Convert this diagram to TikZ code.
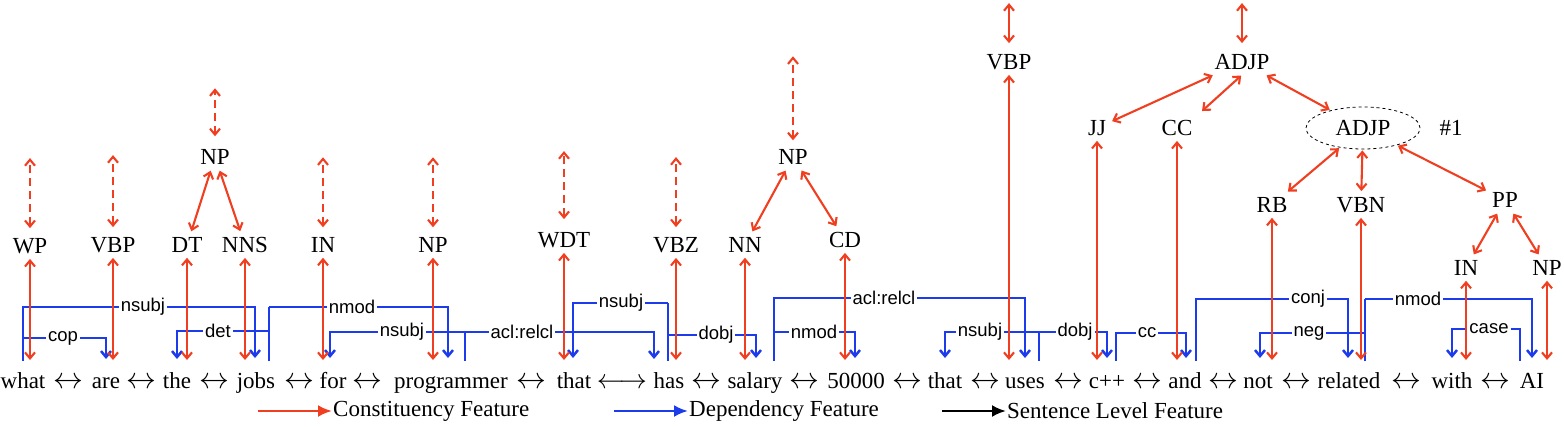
\documentclass[tikz,border=0pt]{standalone}
\usepackage{fontspec}
\setmainfont{Liberation Serif}
\newfontfamily\depfont{Liberation Sans}
\usetikzlibrary{arrows.meta,shapes.geometric}
\definecolor{cred}{RGB}{240,62,32}
\definecolor{cblue}{RGB}{28,60,235}
\newcommand{\lr}{\scalebox{1.2}{$\leftrightarrow$}}
\newcommand{\llr}{\scalebox{1.1}{$\longleftrightarrow$}}
\begin{document}
\begin{tikzpicture}[x=1pt,y=-1pt,
 word/.style={font=\fontsize{23}{25}\selectfont, inner sep=3pt, anchor=base},
 tag/.style={font=\fontsize{23}{25}\selectfont, inner sep=5pt},
 con/.style={cred, line width=2.1pt, {Straight Barb[length=6pt,width=10pt]}-{Straight Barb[length=6pt,width=10pt]}},
 low/.style={con, shorten >=28pt},
 dcon/.style={con, dash pattern=on 8pt off 5pt},
 tree/.style={con, shorten >=1pt, shorten <=1pt},
 dep/.style={cblue, line width=2.5pt},
 deparr/.style={dep, -{Straight Barb[length=6pt,width=10pt]}},
 dl/.style={font=\depfont\fontsize{18.5}{20}\selectfont, fill=white, inner sep=2pt, text=black},
 leg/.style={font=\fontsize{23}{25}\selectfont, anchor=west, inner sep=1pt},
]
\useasboundingbox (0,0) rectangle (1564,426);
% words
\node[word] (w1) at (23,388) {what};
\node[word] (a1) at (68,388) {\lr};
\node[word] (w2) at (106,388) {are};
\node[word] (a2) at (141,388) {\lr};
\node[word] (w3) at (177,388) {the};
\node[word] (a3) at (214,388) {\lr};
\node[word] (w4) at (256,388) {jobs};
\node[word] (a4) at (299,388) {\lr};
\node[word] (w5) at (333,388) {for};
\node[word] (a5) at (367,388) {\lr};
\node[word] (w6) at (451,388) {programmer};
\node[word] (a6) at (531,388) {\lr};
\node[word] (w7) at (574,388) {that};
\node[word] (a7) at (622,388) {\llr};
\node[word] (w8) at (669,388) {has};
\node[word] (a8) at (706,388) {\lr};
\node[word] (w9) at (755,388) {salary};
\node[word] (a9) at (804,388) {\lr};
\node[word] (w10) at (856,388) {50000};
\node[word] (a10) at (907,388) {\lr};
\node[word] (w11) at (945,388) {that};
\node[word] (a11) at (985,388) {\lr};
\node[word] (w12) at (1025,388) {uses};
\node[word] (a12) at (1068,388) {\lr};
\node[word] (w13) at (1107,388) {c++};
\node[word] (a13) at (1147,388) {\lr};
\node[word] (w14) at (1185,388) {and};
\node[word] (a14) at (1223,388) {\lr};
\node[word] (w15) at (1258,388) {not};
\node[word] (a15) at (1296,388) {\lr};
\node[word] (w16) at (1349,388) {related};
\node[word] (a16) at (1406,388) {\lr};
\node[word] (w17) at (1452,388) {with};
\node[word] (a17) at (1495,388) {\lr};
\node[word] (w18) at (1532,388) {AI};
% tags
\node[tag] (tWP) at (30,246) {WP};
\node[tag] (tVBPa) at (113,245) {VBP};
\node[tag] (tDT) at (187,245) {DT};
\node[tag] (tNNS) at (245,245) {NNS};
\node[tag] (tINa) at (323,245) {IN};
\node[tag] (tNPb) at (433,245) {NP};
\node[tag] (tNPa) at (215,157) {NP};
\node[tag] (tWDT) at (564,240) {WDT};
\node[tag] (tVBZ) at (676,245) {VBZ};
\node[tag] (tNN) at (745,245) {NN};
\node[tag] (tCD) at (845,240) {CD};
\node[tag] (tNPc) at (793,157) {NP};
\node[tag] (tVBPb) at (1009,62) {VBP};
\node[tag] (tADJP) at (1242,62) {ADJP};
\node[tag] (tJJ) at (1097,128) {JJ};
\node[tag] (tCC) at (1177,128) {CC};
\node[tag, ellipse, draw=black, line width=0.8pt, dashed, minimum width=114pt, minimum height=42pt, inner sep=0pt] (tADJPb) at (1363,128) {ADJP};
\node[tag] (hash) at (1451,128) {\#1};
\node[tag] (tRB) at (1272,205) {RB};
\node[tag] (tVBN) at (1361,205) {VBN};
\node[tag] (tPP) at (1505,200) {PP};
\node[tag] (tINb) at (1466,268) {IN};
\node[tag] (tNPd) at (1547,268) {NP};

% dependency lines
\draw[deparr] (23,361) -- (23,307) -- (255,307) -- (255,358);
\draw[deparr] (23,338) -- (106,338) -- (106,359);
\draw[deparr] (269,331) -- (177,331) -- (177,359);
\draw[dep] (269,361) -- (269,307);
\draw[deparr] (269,307) -- (448,307) -- (448,358);
\draw[deparr] (465,332) -- (330,332) -- (330,358);
\draw[dep] (465,332) -- (465,361);
\draw[deparr] (465,332) -- (654,332) -- (654,359);
\draw[deparr] (668,303) -- (573,303) -- (573,358);
\draw[dep] (668,303) -- (668,361);
\draw[deparr] (668,335) -- (756,335) -- (756,358);
\draw[deparr] (774,361) -- (774,298) -- (1025,298) -- (1025,358);
\draw[deparr] (774,332) -- (855,332) -- (855,358);
\draw[deparr] (1039,332) -- (945,332) -- (945,358);
\draw[dep] (1039,332) -- (1039,361);
\draw[deparr] (1039,332) -- (1107,332) -- (1107,358);
\draw[deparr] (1116,361) -- (1116,333) -- (1186,333) -- (1186,358);
\draw[deparr] (1196,361) -- (1196,299) -- (1348,299) -- (1348,358);
\draw[deparr] (1365,333) -- (1260,333) -- (1260,358);
\draw[dep] (1365,361) -- (1365,299);
\draw[deparr] (1365,299) -- (1532,299) -- (1532,358);
\draw[deparr] (1520,361) -- (1520,329) -- (1452,329) -- (1452,358);
% dependency labels
\node[dl] (d1) at (143,307) {nsubj};
\node[dl] (d2) at (63,338) {cop};
\node[dl] (d3) at (218,331) {det};
\node[dl] (d4) at (352,307) {nmod};
\node[dl] (d5) at (402,332) {nsubj};
\node[dl] (d6) at (522,332) {acl:relcl};
\node[dl] (d7) at (621,303) {nsubj};
\node[dl] (d8) at (716,335) {dobj};
\node[dl] (d9) at (884,298) {acl:relcl};
\node[dl] (d10) at (814,332) {nmod};
\node[dl] (d11) at (980,332) {nsubj};
\node[dl] (d12) at (1075,332) {dobj};
\node[dl] (d13) at (1147,333) {cc};
\node[dl] (d14) at (1308,299) {conj};
\node[dl] (d15) at (1309,333) {neg};
\node[dl] (d16) at (1418,299) {nmod};
\node[dl] (d17) at (1489,329) {case};

% lower constituency arrows
\foreach \t/\w in {tWP/w1,tVBPa/w2,tDT/w3,tNNS/w4,tINa/w5,tNPb/w6,tWDT/w7,tVBZ/w8,tNN/w9,tCD/w10,tVBPb/w12,tJJ/w13,tCC/w14,tRB/w15,tVBN/w16,tINb/w17,tNPd/w18}
  \draw[low] (\t.south) -- (\t.south |- \w.base);
% dashed upward
\draw[dcon] ([yshift=5pt]tWP.north) -- ++(0,-70);
\draw[dcon] ([yshift=5pt]tVBPa.north) -- ++(0,-72);
\draw[dcon] ([yshift=5pt]tINa.north) -- ++(0,-70);
\draw[dcon] ([yshift=5pt]tNPb.north) -- ++(0,-70);
\draw[dcon] ([yshift=8pt]tWDT.north) -- ++(0,-68);
\draw[dcon] ([yshift=5pt]tVBZ.north) -- ++(0,-70);
\draw[dcon] ([yshift=8pt]tNPa.north) -- ++(0,-48);
\draw[dcon] ([yshift=4pt]tNPc.north) -- ++(0,-84);
\draw[con] ([yshift=6pt]tVBPb.north) -- ++(0,-40);
\draw[con] ([yshift=6pt]tADJP.north) -- ++(0,-40);
% tree edges
\draw[tree] (tNPa) -- (tDT);
\draw[tree] (tNPa) -- (tNNS);
\draw[tree] (tNPc) -- (tNN);
\draw[tree] (tNPc) -- (tCD);
\draw[tree] (tADJP) -- (tJJ);
\draw[tree, shorten >=6pt] (tADJP.south) -- (tCC.north east);
\draw[tree] (tADJP) -- (tADJPb);
\draw[tree] (tADJPb) -- (tRB);
\draw[tree] (tADJPb) -- (tVBN);
\draw[tree] (tADJPb) -- (tPP);
\draw[tree] (tPP) -- (tINb);
\draw[tree] (tPP) -- (tNPd);

% legend
\node[leg] (lc) at (332,411) {Constituency Feature};
\node[leg] (ld) at (688,411) {Dependency Feature};
\node[leg] (ls) at (1006,411) {Sentence Level Feature};
\draw[cred, line width=2.6pt, -{Latex[length=14pt,width=12pt]}] ([xshift=-74pt]lc.west) -- (lc.west);
\draw[cblue, line width=2.6pt, -{Latex[length=14pt,width=12pt]}] ([xshift=-74pt]ld.west) -- (ld.west);
\draw[black, line width=2.6pt, -{Latex[length=14pt,width=12pt]}] ([xshift=-64pt]ls.west) -- (ls.west);
\end{tikzpicture}
\end{document}
